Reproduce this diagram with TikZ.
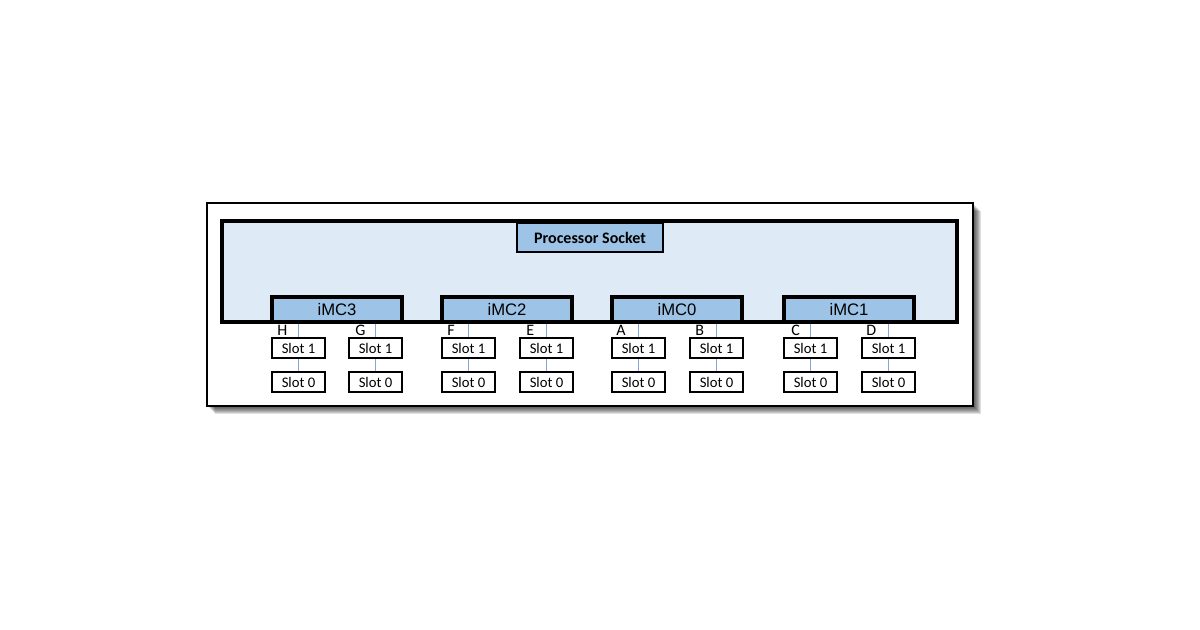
\documentclass[tikz,border=0pt]{standalone}
\usepackage{fontspec}
\setmainfont{Carlito}
\newfontfamily\arialf{Liberation Sans}
\definecolor{socketfill}{RGB}{222,234,246}
\definecolor{imcfill}{RGB}{157,195,230}
\definecolor{wireblue}{RGB}{130,165,220}
\begin{document}
\begin{tikzpicture}[x=0.75pt,y=-0.75pt,
  frame/.style={draw=black,line width=0.9pt,fill=white},
  socket/.style={draw=black,line width=2.3pt,fill=socketfill,inner sep=0pt,
     minimum width=551.25pt,minimum height=75.75pt},
  psbox/.style={draw=black,line width=1.8pt,fill=imcfill,inner sep=0pt,
     minimum width=109.5pt,minimum height=21.75pt,font=\fontsize{12}{14}\selectfont\bfseries},
  imc/.style={draw=black,line width=2.3pt,fill=imcfill,inner sep=0pt,
     minimum width=97.5pt,minimum height=18.75pt,font=\arialf\fontsize{12.5}{14}\selectfont},
  slotbox/.style={draw=black,line width=2.1pt,fill=white,inner sep=0pt,
     minimum width=39.75pt,minimum height=15pt,font=\fontsize{11}{13}\selectfont},
  chlabel/.style={anchor=base west,inner sep=0pt,font=\fontsize{12}{14}\selectfont},
  wire/.style={draw=wireblue,line width=0.6pt}]
\useasboundingbox (0,0) rectangle (1200,630);
% shadow
\foreach \i in {1,...,8}{
  \fill[black,opacity=0.12] (207+\i,203+\i) rectangle (973+\i,406+\i);
}
\node[frame,inner sep=0pt,minimum width=574.5pt,minimum height=152.25pt] (frame) at (590,304.5) {};
\node[socket] (socket) at (589.5,271.5) {};
\node[psbox] (ps) at (590,237.5) {Processor Socket};
\node[imc] (imc3) at (337,309.5) {iMC3};
\node[imc] (imc2) at (507,309.5) {iMC2};
\node[imc] (imc0) at (677,309.5) {iMC0};
\node[imc] (imc1) at (849,309.5) {iMC1};
\foreach \n/\xl/\lx in {H/272/277,G/349/355,F/442/447,E/520/526,A/612/616,B/690/695,C/784/791,D/862/866}{
  \node[slotbox] (s1\n) at (\xl+26.5,348) {Slot 1};
  \node[slotbox] (s0\n) at (\xl+26.5,382) {Slot 0};
  \node[chlabel] (l\n) at (\lx,336) {\n};
  \draw[wire] (s1\n.north |- socket.south) -- (s1\n.north);
  \draw[wire] (s1\n.south) -- (s0\n.north);
}
\end{tikzpicture}
\end{document}
